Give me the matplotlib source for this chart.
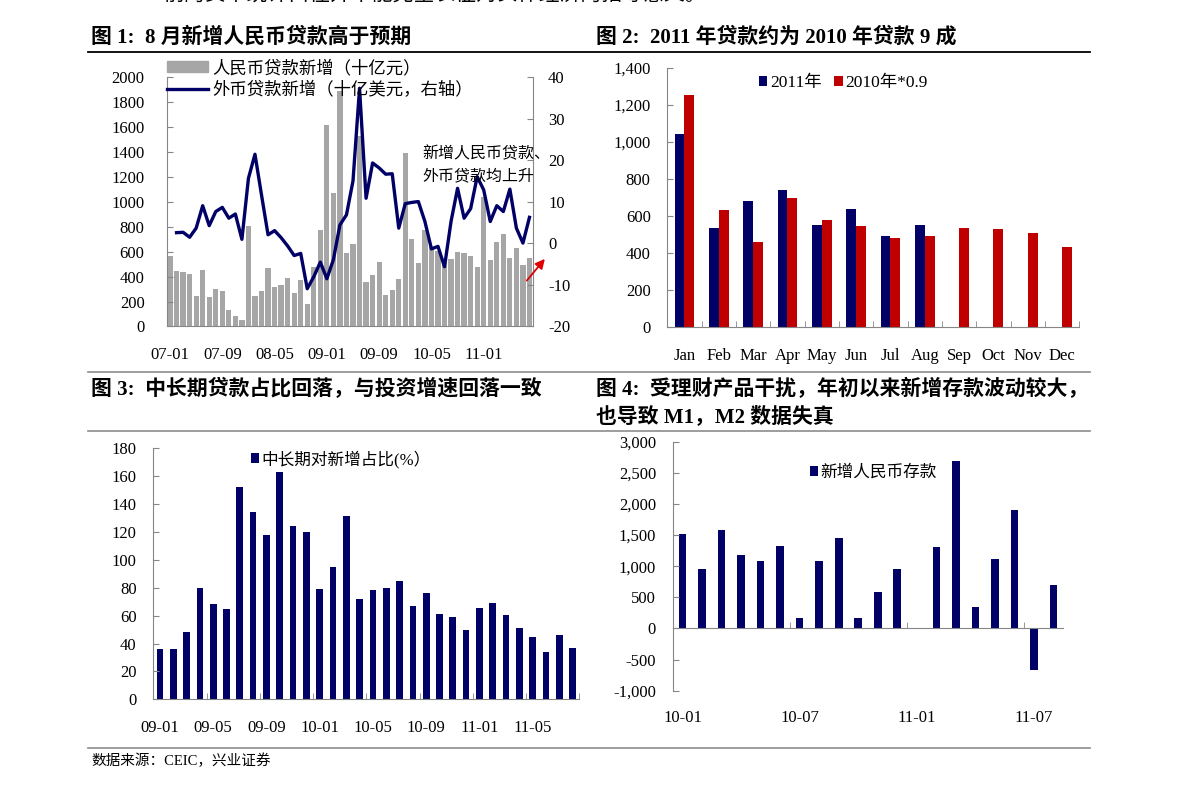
import numpy as np
import pandas as pd
import matplotlib
matplotlib.use('Agg')
import matplotlib.pyplot as plt
from matplotlib.ticker import FuncFormatter
from matplotlib.patches import Patch
from matplotlib.lines import Line2D

plt.rcParams['font.family'] = ['Liberation Serif', 'Noto Sans CJK SC']
plt.rcParams['axes.unicode_minus'] = False
plt.rcParams['font.size'] = 12

# ---- data ----
# fig 1: new RMB loans (bn yuan), 07-01 .. 11-08
rmb_loans = [567, 442, 441, 425, 247, 451, 236, 301, 285, 136, 86, 49,
             804, 244, 283, 467, 318, 332, 389, 272, 370, 181, 477, 772,
             1620, 1070, 1890, 592, 664, 1530, 356, 410, 517, 253, 295, 380,
             1390, 700, 511, 774, 640, 603, 533, 545, 595, 587, 564, 480,
             1040, 536, 679, 740, 551, 634, 492, 548]
# new FX loans (bn USD, right axis), 07-02 .. 11-08
fx_loans = [2.6, 2.7, 1.5, 3.7, 9.1, 4.3, 7.7, 8.7, 6.1, 7.1, 1.0, 15.7,
            21.5, 11.7, 2.1, 3.1, 1.4, -0.6, -2.9, -2.4, -10.9, -8.0, -4.5, -8.5,
            -3.9, 4.5, 6.9, 15.1, 37.4, 10.9, 19.4, 18.2, 16.7, 16.8, 3.7, 9.6,
            9.9, 10.1, 5.3, -1.3, -0.7, -5.6, 5.3, 13.3, 6.1, 8.4, 16.1, 12.9,
            5.3, 9.1, 7.7, 13.1, 3.7, 0.1, 6.3]
months1 = list(pd.period_range('2007-01', periods=len(rmb_loans), freq='M').strftime('%y-%m'))

# fig 2
month_names = ['Jan', 'Feb', 'Mar', 'Apr', 'May', 'Jun', 'Jul', 'Aug', 'Sep', 'Oct', 'Nov', 'Dec']
loans_2011 = [1040, 535, 679, 740, 551, 634, 492, 548]
loans_2010_09 = [1251, 630, 460, 697, 576, 543, 480, 490, 536, 528, 508, 432]

# fig 3: long-term share of new loans (%), 09-01 .. 11-08
lt_share = [36, 36, 48, 80, 68, 64.5, 152, 134, 118, 163, 124, 120,
            79, 95, 131.5, 72, 78.5, 79.5, 85, 67, 76, 61.5, 59, 50,
            65.5, 69, 60.5, 51, 44.5, 34, 46, 37]
months3 = list(pd.period_range('2009-01', periods=len(lt_share), freq='M').strftime('%y-%m'))

# fig 4: new RMB deposits, 10-01 .. 11-08
deposits = [1510, 960, 1575, 1180, 1080, 1330, 160, 1080, 1450, 175,
            590, 950, -15, 1310, 2685, 340, 1115, 1910, -665, 695]
months4 = list(pd.period_range('2010-01', periods=len(deposits), freq='M').strftime('%y-%m'))

NAVY = '#000066'
RED = '#C00000'
GRAY_BAR = '#A6A6A6'
AXIS = '#868686'
comma = FuncFormatter(lambda v, p: f'{v:,.0f}')

fig = plt.figure(figsize=(11.91, 7.89), dpi=100)


def style(ax, show):
    for s in ['left', 'right', 'top', 'bottom']:
        ax.spines[s].set_visible(s in show)
        ax.spines[s].set_color(AXIS)
    ax.tick_params(which='both', colors=AXIS, labelcolor='black', labelsize=12)


# ---- fig 1 ----
ax1 = fig.add_axes([0.140, 0.5862, 0.3073, 0.3156])
x1 = np.arange(len(rmb_loans))
ax1.bar(x1, rmb_loans, width=0.8, color=GRAY_BAR)
ax1.set_xlim(-0.5, len(rmb_loans) - 0.5)
ax1.set_ylim(0, 2000)
ax1.set_yticks(range(0, 2001, 200))
ax1.set_xticks(x1[::8])
ax1.set_xticklabels(months1[::8])
style(ax1, ['left', 'bottom'])
ax1.tick_params(axis='x', length=0, pad=15)
ax1.tick_params(axis='y', direction='in', length=4, pad=16)

ax2 = ax1.twinx()
ax2.plot(x1[1:], fx_loans, color=NAVY, lw=2.4)
ax2.set_ylim(-20, 40)
ax2.set_yticks(range(-20, 41, 10))
style(ax2, ['right'])
ax2.tick_params(axis='y', direction='in', length=4, pad=11)
ax2.legend([Patch(color=GRAY_BAR), Line2D([], [], color=NAVY, lw=2.4)],
           ['人民币贷款新增（十亿元）', '外币贷款新增（十亿美元，右轴）'],
           loc='upper left', bbox_to_anchor=(0.0, 1.07), frameon=False, fontsize=12.5,
           handlelength=2.4, handleheight=0.6, handletextpad=0.25, labelspacing=0.3,
           borderpad=0, borderaxespad=0)
ax2.text(0.6975, 0.6916, '新增人民币贷款、', transform=ax2.transAxes, fontsize=11.5, va='center')
ax2.text(0.6975, 0.6016, '外币贷款均上升', transform=ax2.transAxes, fontsize=11.5, va='center')
ax2.annotate('', xy=(1.038, 0.28), xytext=(0.979, 0.176), xycoords='axes fraction',
             textcoords='axes fraction', annotation_clip=False,
             arrowprops=dict(arrowstyle='-|>', color='#E00000', lw=1.3, mutation_scale=14))

# ---- fig 2 ----
ax = fig.add_axes([0.5603, 0.5859, 0.3459, 0.3283])
w = 0.29
ax.bar(np.arange(len(loans_2011)) - w / 2, loans_2011, w, color=NAVY, label='2011年')
ax.bar(np.arange(len(loans_2010_09)) + w / 2, loans_2010_09, w, color=RED, label='2010年*0.9')
ax.set_xlim(-0.5, 11.5)
ax.set_ylim(0, 1400)
ax.set_yticks(range(0, 1401, 200))
ax.yaxis.set_major_formatter(comma)
ax.set_xticks(np.arange(12))
ax.set_xticklabels(month_names)
ax.set_xticks(np.arange(0.5, 12, 1), minor=True)
style(ax, ['left', 'bottom'])
ax.tick_params(axis='x', which='major', length=0, pad=15)
ax.tick_params(axis='x', which='minor', direction='in', length=4)
ax.tick_params(axis='y', direction='in', length=4, pad=12)
ax.legend(loc='center left', bbox_to_anchor=(0.222, 0.941), ncol=2, frameon=False,
          fontsize=12.5, handlelength=0.5, handleheight=0.5, handletextpad=0.15,
          columnspacing=0.7, borderpad=0, borderaxespad=0)

# ---- fig 3 ----
ax = fig.add_axes([0.1287, 0.1137, 0.3577, 0.3181])
x3 = np.arange(len(lt_share))
ax.bar(x3, lt_share, 0.5, color=NAVY, label='中长期对新增占比(%）')
ax.set_xlim(-0.5, len(lt_share) - 0.5)
ax.set_ylim(0, 180)
ax.set_yticks(range(0, 181, 20))
ax.set_xticks(x3[::4])
ax.set_xticklabels(months3[::4])
ax.set_xticks(np.arange(3.5, len(lt_share), 4), minor=True)
style(ax, ['left', 'bottom'])
ax.tick_params(axis='x', which='major', length=0, pad=15)
ax.tick_params(axis='x', which='minor', direction='in', length=4)
ax.tick_params(axis='y', direction='in', length=4, pad=12)
ax.legend(loc='center left', bbox_to_anchor=(0.229, 0.957), frameon=False, fontsize=12,
          handlelength=0.5, handleheight=0.5, handletextpad=0.15, borderpad=0, borderaxespad=0)

# ---- fig 4 ----
ax = fig.add_axes([0.5648, 0.1246, 0.328, 0.3156])
x4 = np.arange(len(deposits))
ax.bar(x4, deposits, 0.39, color=NAVY, label='新增人民币存款')
ax.set_xlim(-0.5, len(deposits) - 0.5)
ax.set_ylim(-1000, 3000)
ax.set_yticks(range(-1000, 3001, 500))
ax.yaxis.set_major_formatter(comma)
ax.set_xticks(x4[::6])
ax.set_xticklabels(months4[::6])
ax.set_xticks(np.arange(5.5, len(deposits), 6), minor=True)
style(ax, ['left', 'bottom'])
ax.spines['bottom'].set_position(('data', 0))
ax.tick_params(axis='x', which='major', length=0, pad=59)
ax.tick_params(axis='x', which='minor', direction='in', length=4)
ax.tick_params(axis='y', direction='in', length=4, pad=12)
ax.legend(loc='center left', bbox_to_anchor=(0.351, 0.874), frameon=False, fontsize=12,
          handlelength=0.5, handleheight=0.5, handletextpad=0.15, borderpad=0, borderaxespad=0)

# ---- page text and rules ----
W, H = 1191, 789


def fx(px):
    return px / W


def fy(py):
    return 1 - py / H


fig.text(fx(164), fy(-4), '前的货币统计口径并不能完全表征对实体经济的指导意义。', fontsize=15, va='center')
tkw = dict(fontsize=15, fontweight='bold', va='center', ha='left')
fig.text(fx(91), fy(37), '图 1:  8 月新增人民币贷款高于预期', **tkw)
fig.text(fx(596), fy(37), '图 2:  2011 年贷款约为 2010 年贷款 9 成', **tkw)
fig.text(fx(91), fy(390), '图 3:  中长期贷款占比回落，与投资增速回落一致', **tkw)
fig.text(fx(596), fy(390), '图 4:  受理财产品干扰，年初以来新增存款波动较大，', **tkw)
fig.text(fx(596), fy(417), '也导致 M1，M2 数据失真', **tkw)
fig.text(fx(91), fy(761), '数据来源：CEIC，兴业证券', fontsize=10.5, va='center')

fig.add_artist(Line2D([fx(88), fx(1090)], [fy(52), fy(52)], color='black', lw=1.3))
for yy in [372, 431, 748]:
    fig.add_artist(Line2D([fx(88), fx(1090)], [fy(yy), fy(yy)], color='#8c8c8c', lw=1.2))

fig.savefig('out.png', dpi=100)
